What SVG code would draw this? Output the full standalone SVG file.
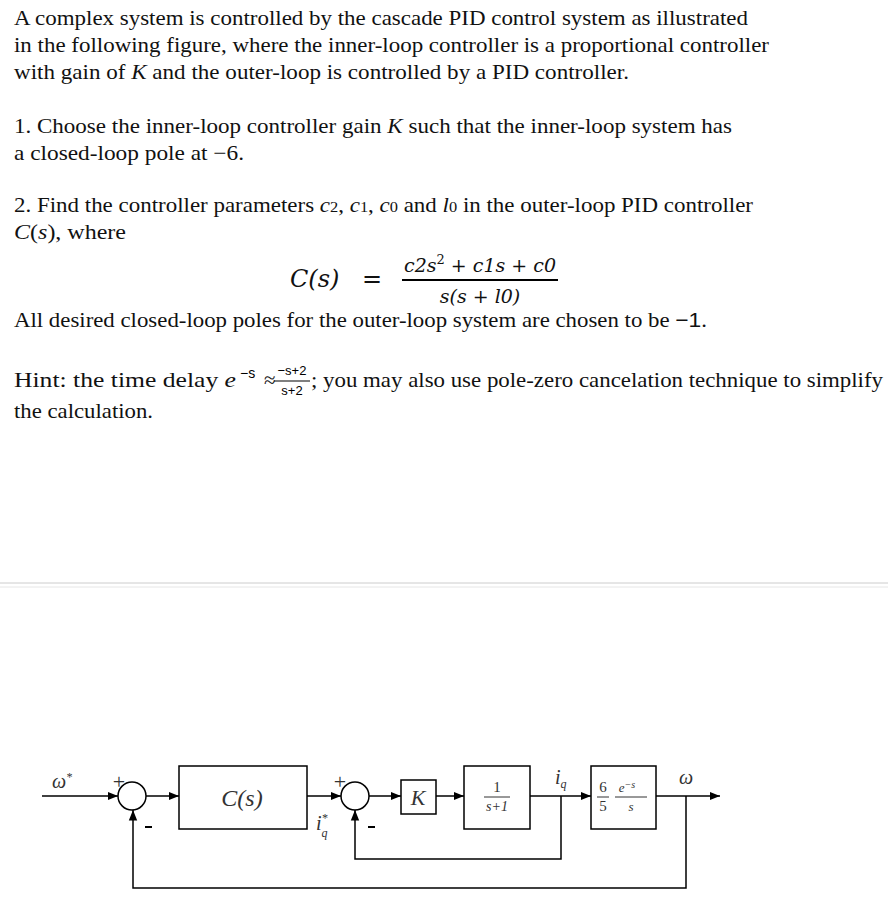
<svg xmlns="http://www.w3.org/2000/svg" width="888" height="905" viewBox="0 0 888 905">
<defs>
<marker id="a" viewBox="0 0 10 10" refX="10" refY="5" markerWidth="7" markerHeight="7" orient="auto"><path d="M0,1 L10,5 L0,9 z" fill="#000"/></marker>
<style>
.t{font-family:"Liberation Serif",serif;font-size:21px;fill:#111}
.m{font-family:"DejaVu Serif","Liberation Serif",serif;fill:#111}
.b{fill:#fff;stroke:#000;stroke-width:1.5}
.l{fill:none;stroke:#000;stroke-width:1.5}
.d{font-family:"Liberation Serif",serif;fill:#333}
</style>
</defs>
<rect width="888" height="905" fill="#fff"/>
<g id="text">
<text class="t" x="14" y="25" textLength="734" lengthAdjust="spacingAndGlyphs">A complex system is controlled by the cascade PID control system as illustrated</text>
<text class="t" x="14" y="52" textLength="755" lengthAdjust="spacingAndGlyphs">in the following figure, where the inner-loop controller is a proportional controller</text>
<text class="t" x="14" y="79" textLength="615" lengthAdjust="spacingAndGlyphs">with gain of <tspan font-style="italic">K</tspan> and the outer-loop is controlled by a PID controller.</text>
<text class="t" x="14" y="133" textLength="718" lengthAdjust="spacingAndGlyphs">1. Choose the inner-loop controller gain <tspan font-style="italic">K</tspan> such that the inner-loop system has</text>
<text class="t" x="14" y="160" textLength="230" lengthAdjust="spacingAndGlyphs">a closed-loop pole at −6.</text>
<text class="t" x="14" y="212" textLength="739" lengthAdjust="spacingAndGlyphs">2. Find the controller parameters <tspan font-style="italic">c</tspan><tspan font-size="15">2</tspan>, <tspan font-style="italic">c</tspan><tspan font-size="15">1</tspan>, <tspan font-style="italic">c</tspan><tspan font-size="15">0</tspan> and <tspan font-style="italic">l</tspan><tspan font-size="15">0</tspan> in the outer-loop PID controller</text>
<text class="t" x="14" y="239" textLength="112" lengthAdjust="spacingAndGlyphs"><tspan font-style="italic">C</tspan>(<tspan font-style="italic">s</tspan>), where</text>
<text class="m" x="290" y="287" font-size="24" font-style="italic">C(s)</text>
<text class="m" x="362" y="287" font-size="24">=</text>
<line x1="402" y1="280" x2="558" y2="280" stroke="#000" stroke-width="2"/>
<text class="m" x="480" y="272" font-size="19" font-style="italic" text-anchor="middle">c2s<tspan font-size="13" dy="-8" font-style="normal">2</tspan><tspan dy="8"> + c1s + c0</tspan></text>
<text class="m" x="480" y="303" font-size="19" font-style="italic" text-anchor="middle">s(s + l0)</text>
<text class="t" x="14" y="327" textLength="693" lengthAdjust="spacingAndGlyphs">All desired closed-loop poles for the outer-loop system are chosen to be <tspan font-family="Liberation Sans,sans-serif">−1</tspan>.</text>
<text class="t" x="14" y="387" textLength="222" lengthAdjust="spacingAndGlyphs">Hint: the time delay <tspan font-style="italic">e</tspan></text>
<text x="240" y="378" font-family="Liberation Sans,sans-serif" font-size="14">−s</text>
<text class="t" x="264" y="387">≈</text>
<line x1="270" y1="381" x2="306" y2="381" stroke="#000" stroke-width="1.2" transform="translate(4 0)"/>
<text x="292" y="375" font-family="Liberation Sans,sans-serif" font-size="13" text-anchor="middle">−s+2</text>
<text x="292" y="395" font-family="Liberation Sans,sans-serif" font-size="13" text-anchor="middle">s+2</text>
<text class="t" x="311" y="387" textLength="572" lengthAdjust="spacingAndGlyphs">; you may also use pole-zero cancelation technique to simplify</text>
<text class="t" x="14" y="418" textLength="139" lengthAdjust="spacingAndGlyphs">the calculation.</text>
</g>
<line x1="0" y1="583" x2="888" y2="583" stroke="#ccc" stroke-width="1"/>
<line x1="0" y1="587" x2="888" y2="587" stroke="#e6e6e6" stroke-width="1"/>
<g id="connectors">
<line class="l" x1="42" y1="796" x2="118" y2="796" marker-end="url(#a)"/>
<line class="l" x1="146" y1="796" x2="179" y2="796" marker-end="url(#a)"/>
<line class="l" x1="307" y1="796" x2="341" y2="796" marker-end="url(#a)"/>
<line class="l" x1="369" y1="796" x2="401" y2="796" marker-end="url(#a)"/>
<line class="l" x1="436" y1="796" x2="464" y2="796" marker-end="url(#a)"/>
<line class="l" x1="530" y1="796" x2="591" y2="796" marker-end="url(#a)"/>
<line class="l" x1="656" y1="796" x2="720" y2="796" marker-end="url(#a)"/>
<polyline class="l" points="561,796 561,859 355,859 355,810" marker-end="url(#a)"/>
<polyline class="l" points="686,796 686,888 133,888 133,810" marker-end="url(#a)"/>
</g>
<g id="sum1"><circle class="b" cx="132" cy="796" r="14"/>
<text class="d" x="119" y="789" font-size="22" text-anchor="middle">+</text>
<line x1="145" y1="827" x2="152" y2="827" stroke="#000" stroke-width="2"/></g>
<g id="sum2"><circle class="b" cx="355" cy="796" r="14"/>
<text class="d" x="340" y="789" font-size="22" text-anchor="middle">+</text>
<line x1="368" y1="827" x2="375" y2="827" stroke="#000" stroke-width="2"/></g>
<g id="C"><rect class="b" x="179" y="766" width="128" height="63"/>
<text class="d" x="242" y="806" font-size="24" font-style="italic" text-anchor="middle">C(s)</text></g>
<g id="K"><rect class="b" x="401" y="780" width="35" height="34"/>
<text class="d" x="418" y="805" font-size="22" font-style="italic" text-anchor="middle">K</text></g>
<g id="G1"><rect class="b" x="464" y="766" width="66" height="63"/>
<text class="d" x="497" y="792" font-size="15" text-anchor="middle">1</text>
<line x1="484" y1="797" x2="510" y2="797" stroke="#333"/>
<text class="d" x="497" y="811" font-size="14" font-style="italic" text-anchor="middle">s+1</text></g>
<g id="G2"><rect class="b" x="591" y="766" width="65" height="63"/>
<text class="d" x="603" y="792" font-size="15" text-anchor="middle">6</text>
<line x1="597" y1="797" x2="609" y2="797" stroke="#333"/>
<text class="d" x="603" y="811" font-size="15" text-anchor="middle">5</text>
<text class="d" x="627" y="792" font-size="13" font-style="italic" text-anchor="middle">e<tspan font-size="10" dy="-4">−s</tspan></text>
<line x1="615" y1="797" x2="647" y2="797" stroke="#333"/>
<text class="d" x="631" y="811" font-size="13" font-style="italic" text-anchor="middle">s</text></g>
<g id="labels">
<text class="d" x="62" y="788" font-size="20" font-style="italic" text-anchor="middle">ω<tspan font-size="12" dy="-7">*</tspan></text>
<text class="d" x="316" y="830" font-size="20" font-style="italic">i<tspan font-size="12" dy="-8">*</tspan><tspan font-size="12" dx="-6" dy="15">q</tspan></text>
<text class="d" x="555" y="784" font-size="20" font-style="italic">i<tspan font-size="12" dy="4">q</tspan></text>
<text class="d" x="686" y="784" font-size="20" font-style="italic" text-anchor="middle">ω</text>
</g>
</svg>
